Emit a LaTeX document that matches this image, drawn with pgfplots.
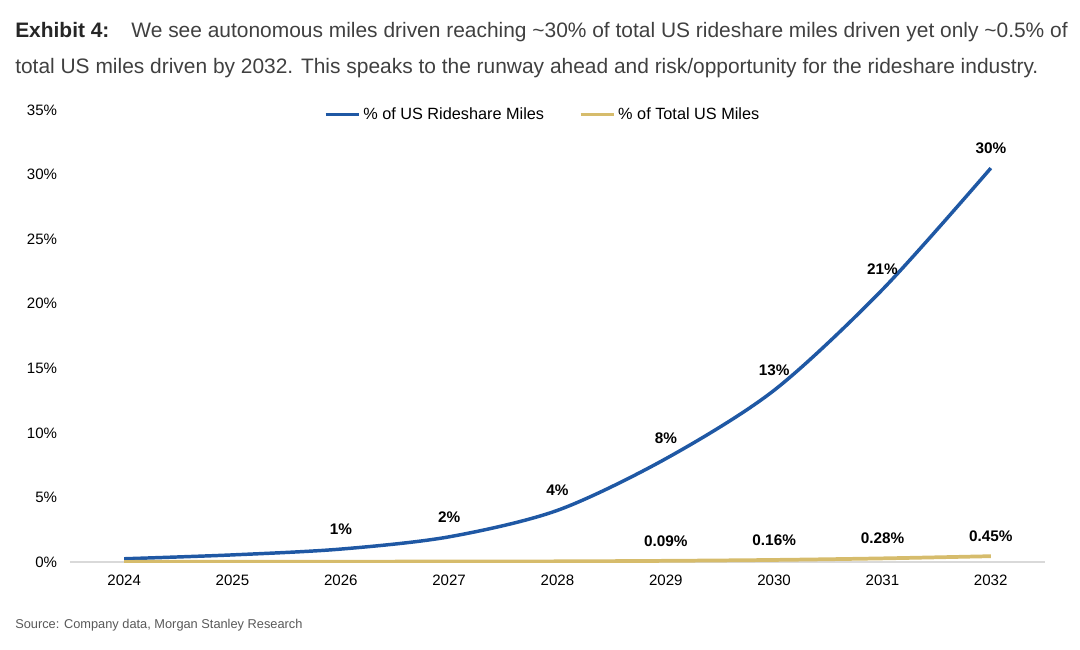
\documentclass[border=0pt]{standalone}
\usepackage{pgfplots}
\pgfplotsset{compat=1.18}
\usepackage{fontspec}
\setmainfont{Liberation Sans}
\definecolor{msblue}{HTML}{1F58A4}
\definecolor{msgold}{HTML}{D6BC6C}
\definecolor{titlegray}{HTML}{404040}
\begin{document}
\begin{tikzpicture}
\useasboundingbox (-52.5pt,-65.25pt) rectangle (757.5pt,421.5pt);
% title, two lines as in the exhibit
\node[anchor=base west, inner sep=0pt, font=\fontsize{15.7}{18}\selectfont, text=titlegray] at (-41.25pt,393pt)
  {\textbf{\color{black!85}Exhibit 4:}\hspace{1.05em}We see autonomous miles driven reaching \textasciitilde30\% of total US rideshare miles driven yet only \textasciitilde0.5\% of};
\node[anchor=base west, inner sep=0pt, font=\fontsize{15.7}{18}\selectfont, text=titlegray] at (-41.25pt,366pt)
  {total US miles driven by 2032. This speaks to the runway ahead and risk/opportunity for the rideshare industry.};
\begin{axis}[
    at={(0,0)}, anchor=south west,
    scale only axis, width=731.25pt, height=339pt,
    xmin=2023.5, xmax=2032.5, ymin=0, ymax=35,
    axis lines=left,
    x axis line style={-, draw=black!15, line width=0.8pt},
    y axis line style={draw=none},
    tick style={draw=none},
    xtick={2024,...,2032}, ytick={0,5,...,35},
    /pgf/number format/assume math mode=true,
    xticklabel style={/pgf/number format/1000 sep={}, font=\fontsize{11.3}{13}\selectfont, yshift=-4pt},
    yticklabel={\pgfmathprintnumber{\tick}\%},
    yticklabel style={font=\fontsize{11.3}{13}\selectfont, xshift=-4pt},
    legend style={at={(0.485,0.99)}, anchor=center, draw=none, fill=none,
      legend columns=2, font=\fontsize{12.2}{14}\selectfont,
      /tikz/every even column/.append style={column sep=24pt}},
    legend image code/.code={\draw[#1, line width=2.6pt] (0pt,0pt) -- (25pt,0pt);},
    legend cell align=left,
    nodes near coords,
    point meta=explicit symbolic,
    every node near coord/.append style={font=\bfseries\fontsize{11.5}{13}\selectfont, text=black, anchor=center, yshift=15pt},
]
\addplot[msblue, line width=2.6pt, smooth, mark=none] coordinates {
  (2024,0.25) []
  (2025,0.55) []
  (2026,1.0) [1\%]
  (2027,1.95) [2\%]
  (2028,4.0) [4\%]
  (2029,8.0) [8\%]
  (2030,13.3) [13\%]
  (2031,21.1) [21\%]
  (2032,30.5) [30\%]
};
\addlegendentry{\% of US Rideshare Miles}
\addplot[msgold, line width=2.8pt, smooth, mark=none] coordinates {
  (2024,0.01) []
  (2025,0.015) []
  (2026,0.025) []
  (2027,0.035) []
  (2028,0.05) []
  (2029,0.09) [0.09\%]
  (2030,0.16) [0.16\%]
  (2031,0.28) [0.28\%]
  (2032,0.45) [0.45\%]
};
\addlegendentry{\% of Total US Miles}
\end{axis}
\node[anchor=base west, inner sep=0pt, font=\fontsize{9.6}{12}\selectfont, text=black!65] at (-41.25pt,-49.5pt)
  {Source: Company data, Morgan Stanley Research};
\end{tikzpicture}
\end{document}
